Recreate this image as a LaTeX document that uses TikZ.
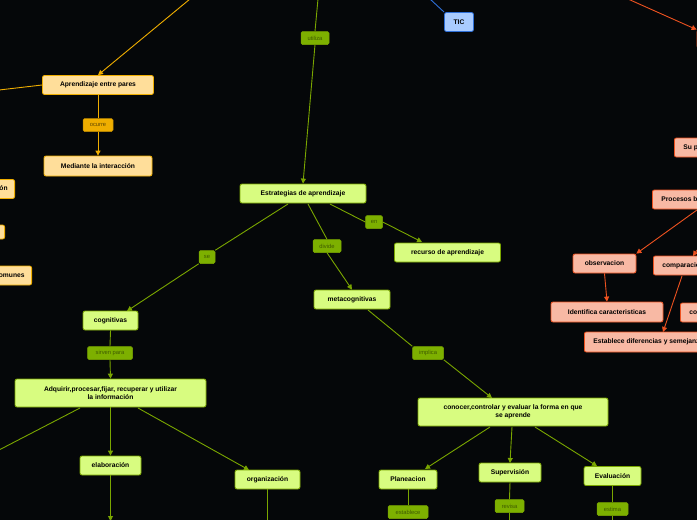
\documentclass[tikz,border=0pt]{standalone}
\usepackage{fontspec}
\setmainfont{Liberation Sans}
\usetikzlibrary{arrows.meta}
\definecolor{bg}{HTML}{050709}
\definecolor{gfill}{HTML}{D8FC80}
\definecolor{gline}{HTML}{7AA600}
\definecolor{glab}{HTML}{7DB000}
\definecolor{gtxt}{HTML}{3E5A00}
\definecolor{ofill}{HTML}{FFDE9A}
\definecolor{oline}{HTML}{F0AE00}
\definecolor{sfill}{HTML}{F8B9A4}
\definecolor{sline}{HTML}{EE5220}
\definecolor{bfill}{HTML}{A9CBFF}
\definecolor{bline}{HTML}{2E6FD8}
\tikzset{
 base/.style={rounded corners=2pt,line width=0.8pt,align=center,inner sep=0pt,
   font=\fontsize{6.7}{7.8}\selectfont\bfseries,text=black},
 gbox/.style={base,draw=gline,fill=gfill},
 obox/.style={base,draw=oline,fill=ofill},
 sbox/.style={base,draw=sline,fill=sfill},
 tbox/.style={base,draw=bline,fill=bfill},
 glab/.style={rounded corners=1.5pt,fill=glab,draw=gline,line width=0.5pt,inner sep=0pt,
   font=\fontsize{5.8}{6}\selectfont,text=gtxt,minimum height=13pt},
 olab/.style={glab,fill=oline,draw=oline!80!black,text=black!60!oline},
 gc/.style={draw=gline,line width=0.9pt},
 oc/.style={draw=oline,line width=0.9pt},
 sc/.style={draw=sline,line width=0.9pt},
 arr/.style={-{Triangle[length=5pt,width=5pt]}},
 lefttext/.style={anchor=west,inner xsep=9pt,minimum height=19pt},
 righttext/.style={anchor=east,inner xsep=7pt,minimum height=19pt},
}
\begin{document}
\begin{tikzpicture}[x=1pt,y=-1pt]
\fill[bg] (0,0) rectangle (697,520);
\useasboundingbox (0,0) rectangle (697,520);
\clip (0,0) rectangle (697,520);
% orange
\node[obox,minimum width=111pt,minimum height=19pt] (aep) at (98,85) {Aprendizaje entre pares};
\node[obox,minimum width=108pt,minimum height=20pt] (mli) at (98,166) {Mediante la interacción};
\node[olab,minimum width=30pt] (ocu) at (98,125) {ocurre};
\node[obox,righttext] (l1) at (15,189) {Comprensión};
\node[obox,anchor=east,minimum width=30pt,minimum height=14pt] (l2) at (5,232) {};
\node[obox,righttext] (l3) at (32,275.5) {Metas comunes};
\coordinate (otop) at (190,-1);
\coordinate (oleft) at (-1,90);
\draw[oc,arr] (otop) -- (aep.north);
\draw[oc] (oleft) -- (aep.west);
\draw[oc] (aep.south) -- (ocu.north);
\draw[oc,arr] (ocu.south) -- (mli.north);
% blue
\node[tbox,minimum width=29pt,minimum height=19pt] (tic) at (459,22) {TIC};
\coordinate (btop) at (430,-1);
\draw[draw=bline,line width=0.9pt] (btop) -- (tic.north west);
% salmon
\node[sbox,minimum width=60pt,minimum height=18pt] (top) at (727,39) {Tecnología};
\coordinate (stop) at (628,-1);
\draw[sc,arr] (stop) -- (top.north west);
\node[sbox,lefttext] (sup) at (674,147.5) {Su proceso};
\node[sbox,lefttext] (pro) at (652,199.5) {Procesos básicos};
\node[sbox,minimum width=63pt,minimum height=19pt] (obs) at (604.5,263.5) {observacion};
\node[sbox,lefttext] (com) at (653,265.5) {comparación};
\node[sbox,minimum width=112pt,minimum height=20pt] (ide) at (607,312) {Identifica caracteristicas};
\node[sbox,lefttext] (co2) at (680,312.5) {cognitivo};
\node[sbox,lefttext,minimum height=20pt] (est) at (584,342) {Establece diferencias y semejanzas};
\coordinate (p1) at (697,210);
\coordinate (p2) at (697,250);
\draw[sc,arr] (p1) -- (obs.north east);
\draw[sc,arr] (p2) -- (693,256);
\draw[sc,arr] (obs.south) -- (ide.north);
\draw[sc,arr] (682,276) -- (663,332);
% green
\node[gbox,minimum width=126pt,minimum height=19pt] (ea) at (303,193.5) {Estrategias de aprendizaje};
\node[glab,minimum width=28pt] (uti) at (315,38) {utiliza};
\coordinate (gtop) at (318,-1);
\draw[gc] (gtop) -- (uti.north);
\draw[gc,arr] (uti.south) -- (ea.north);
\node[gbox,minimum width=106pt,minimum height=19pt] (rec) at (447.5,252.5) {recurso de aprendizaje};
\node[glab,minimum width=17pt] (en) at (374,222) {en};
\draw[gc] (330,204) -- (en.west);
\draw[gc,arr] (en.east) -- (422,242);
\node[gbox,minimum width=76pt,minimum height=19pt] (met) at (352,299.5) {metacognitivas};
\node[glab,minimum width=28pt] (div) at (327,246) {divide};
\draw[gc] (308,204) -- (div.north);
\draw[gc,arr] (div.south) -- (met.north);
\node[gbox,minimum width=55pt,minimum height=19pt] (cog) at (110.5,320.5) {cognitivas};
\node[glab,minimum width=16pt] (se) at (207,257) {se};
\draw[gc] (288,204) -- (se.north east);
\draw[gc,arr] (se.south west) -- (127,311);
\node[glab,minimum width=45pt] (sir) at (110,353) {sirven para};
\draw[gc] (cog.south) -- (sir.north);
\node[gbox,minimum width=191pt,minimum height=28pt] (adq) at (110.5,393) {Adquirir,procesar,fijar, recuperar y utilizar\\la información};
\draw[gc,arr] (sir.south) -- (adq.north);
\node[gbox,minimum width=61pt,minimum height=19pt] (ela) at (110.5,465.5) {elaboración};
\node[gbox,minimum width=65pt,minimum height=19pt] (org) at (267.5,479.5) {organización};
\coordinate (aleft) at (-1,450);
\draw[gc] (80,408) -- (aleft);
\draw[gc,arr] (adq.south) -- (ela.north);
\draw[gc,arr] (138,408) -- (249,470);
\coordinate (e1) at (110.5,521);
\coordinate (o1) at (267.5,521);
\draw[gc,arr] (ela.south) -- (e1);
\draw[gc] (org.south) -- (o1);
\node[glab,minimum width=31pt] (imp) at (428,353) {implica};
\draw[gc] (368,310) -- (imp.north west);
\node[gbox,minimum width=190pt,minimum height=28pt] (con) at (513,412) {conocer,controlar y evaluar la forma en que\\se aprende};
\draw[gc,arr] (imp.south east) -- (492,398);
\node[gbox,minimum width=58pt,minimum height=19pt] (pla) at (408,479.5) {Planeacion};
\node[gbox,minimum width=62pt,minimum height=19pt] (sup2) at (510,472.5) {Supervisión};
\node[gbox,minimum width=57pt,minimum height=19pt] (eva) at (612.5,476) {Evaluación};
\draw[gc,arr] (490,427) -- (425,469);
\draw[gc,arr] (512,427) -- (510,463);
\draw[gc,arr] (535,427) -- (597,466);
\node[glab,minimum width=40pt] (esb) at (408,512) {establece};
\node[glab,minimum width=29pt] (rev) at (509.5,506) {revisa};
\node[glab,minimum width=31pt] (esm) at (612.5,509) {estima};
\draw[gc] (pla.south) -- (esb.north);
\draw[gc] (sup2.south) -- (rev.north);
\draw[gc] (eva.south) -- (esm.north);
\coordinate (r1) at (509.5,521);
\coordinate (m1) at (612.5,521);
\draw[gc] (rev.south) -- (r1);
\draw[gc] (esm.south) -- (m1);
\end{tikzpicture}
\end{document}
